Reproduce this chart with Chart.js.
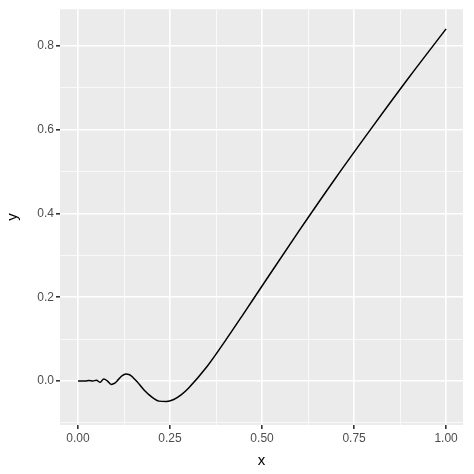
<!DOCTYPE html>
<html><head><meta charset="utf-8">
<script src="https://cdn.jsdelivr.net/npm/chart.js@4/dist/chart.umd.min.js"></script>
<style>body{margin:0;background:#fff}</style>
</head><body>
<canvas id="c" width="474" height="474"></canvas>
<script>
// 図から読み取った値
const xs = [0, 0.01, 0.02, 0.03, 0.04, 0.05, 0.06, 0.07, 0.08, 0.09, 0.10, 0.11, 0.12, 0.13, 0.14, 0.15, 0.16, 0.18, 0.20, 0.22, 0.24, 0.26, 0.28, 0.30, 0.35, 0.40, 0.45, 0.50, 0.60, 0.70, 0.80, 0.90, 1.00];
const ys = [0, 0, 0, 0.001, 0, 0.002, -0.003, 0.005, 0, -0.008, -0.005, 0.004, 0.013, 0.017, 0.015, 0.008, -0.001, -0.022, -0.038, -0.048, -0.049, -0.044, -0.033, -0.017, 0.034, 0.096, 0.161, 0.227, 0.358, 0.485, 0.607, 0.726, 0.841];
const xTicks = [0, 0.25, 0.5, 0.75, 1];
const yTicks = [0, 0.2, 0.4, 0.6, 0.8];

const points = xs.map((x, i) => ({x: x, y: ys[i]}));

// パネル背景
const panelBg = {
    id: 'panelBg',
    beforeDraw(chart) {
        const a = chart.chartArea, ctx = chart.ctx;
        ctx.save();
        ctx.fillStyle = '#EBEBEB';
        ctx.fillRect(a.left, a.top, a.right - a.left, a.bottom - a.top);
        ctx.restore();
    }
};

function withMinor(major) {
    const out = [];
    const step = major[1] - major[0];
    out.push(major[0] - step / 2);
    major.forEach(v => { out.push(v); out.push(v + step / 2); });
    return out;
}
const isMajor = (list, v) => list.some(m => Math.abs(m - v) < 1e-9);

new Chart(document.getElementById('c'), {
    type: 'scatter',
    data: { datasets: [{ data: points, showLine: true, borderColor: '#000', borderWidth: 1.5, pointRadius: 0, tension: 0.4, cubicInterpolationMode: 'monotone' }] },
    options: {
        responsive: false,
        animation: false,
        layout: { padding: { top: 8, right: 11 } },
        plugins: { legend: { display: false }, tooltip: { enabled: false } },
        scales: {
            x: {
                min: -0.049, max: 1.046,
                afterBuildTicks(s) { s.ticks = withMinor(xTicks).filter(v => v >= s.min && v <= s.max).map(v => ({value: v})); },
                afterFit(s) { s.height = 49; },
                ticks: { color: '#4D4D4D', font: { family: 'Liberation Sans', size: 12 }, padding: 2, maxRotation: 0,
                    callback: v => isMajor(xTicks, v) ? v.toFixed(2) : '' },
                grid: { color: '#fff', lineWidth: c => isMajor(xTicks, c.tick.value) ? 1.6 : 0.7, tickColor: c => isMajor(xTicks, c.tick.value) ? '#333' : 'rgba(0,0,0,0)', tickLength: 4, drawBorder: false },
                border: { display: false },
                title: { display: true, text: 'x', color: '#000', font: { family: 'Liberation Sans', size: 15 }, padding: { top: 0 } }
            },
            y: {
                min: -0.105, max: 0.888,
                afterBuildTicks(s) { s.ticks = withMinor(yTicks).filter(v => v >= s.min && v <= s.max).map(v => ({value: v})); },
                afterFit(s) { s.width = 60; },
                ticks: { color: '#4D4D4D', font: { family: 'Liberation Sans', size: 12 }, padding: 2,
                    callback: v => isMajor(yTicks, v) ? v.toFixed(1) : '' },
                grid: { color: '#fff', lineWidth: c => isMajor(yTicks, c.tick.value) ? 1.6 : 0.7, tickColor: c => isMajor(yTicks, c.tick.value) ? '#333' : 'rgba(0,0,0,0)', tickLength: 4 },
                border: { display: false },
                title: { display: true, text: 'y', color: '#000', font: { family: 'Liberation Sans', size: 15 }, padding: { bottom: 2 } }
            }
        }
    },
    plugins: [panelBg]
});
</script>
</body></html>
